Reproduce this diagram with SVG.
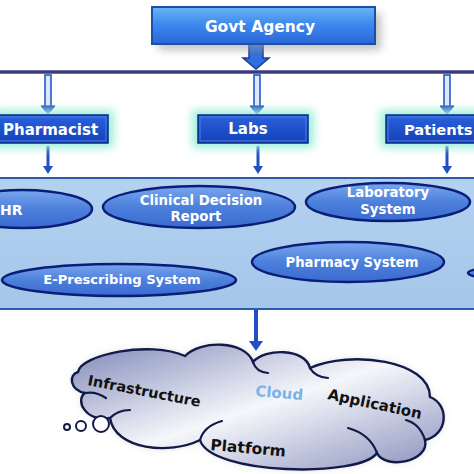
<svg xmlns="http://www.w3.org/2000/svg" width="474" height="474" viewBox="0 0 474 474">
<defs>
<style>
.lbl{font-family:"DejaVu Sans",Verdana,sans-serif;font-weight:bold;fill:#ffffff}
.cl{font-family:"DejaVu Sans",Verdana,sans-serif;font-weight:bold;fill:#111111}
.box{fill:url(#boxg);stroke:#0c2a80;stroke-width:1.5}
.inner{fill:none;stroke:#3f7ae6;stroke-width:1.2}
.ell{fill:url(#ellg);stroke:#0a1e78;stroke-width:2.5}
.thin{stroke:#1f4fc2;stroke-width:3;fill:none}
.head{fill:#1f4fc2}
.shaft{fill:#dce8fb;stroke:#2656cc;stroke-width:1.6}
.bhead{fill:#2a5ed6;stroke:#1a3a98;stroke-width:1}
.curl{fill:none;stroke:#141a48;stroke-width:2.2;stroke-linecap:round}
</style>
<linearGradient id="govg" x1="0" y1="0" x2="0" y2="1">
<stop offset="0" stop-color="#6cb4f6"/>
<stop offset="0.45" stop-color="#3e8aee"/>
<stop offset="1" stop-color="#2a66d6"/>
</linearGradient>
<linearGradient id="boxg" x1="0" y1="0" x2="0" y2="1">
<stop offset="0" stop-color="#2a62dc"/>
<stop offset="1" stop-color="#1440b8"/>
</linearGradient>
<linearGradient id="ellg" x1="0" y1="0" x2="0" y2="1">
<stop offset="0" stop-color="#7aa6ee"/>
<stop offset="0.5" stop-color="#4d80dc"/>
<stop offset="1" stop-color="#3a6ad0"/>
</linearGradient>
<linearGradient id="panelg" x1="0" y1="0" x2="0" y2="1">
<stop offset="0" stop-color="#b4d2f0"/>
<stop offset="1" stop-color="#a4c6ea"/>
</linearGradient>
<linearGradient id="cloudg" x1="0" y1="0" x2="1" y2="1">
<stop offset="0" stop-color="#7e88b8"/>
<stop offset="0.5" stop-color="#f6f7fb"/>
<stop offset="1" stop-color="#8790bc"/>
</linearGradient>
<filter id="glow" x="-20%" y="-50%" width="140%" height="200%">
<feGaussianBlur stdDeviation="4"/>
</filter>
<filter id="shadow" x="-10%" y="-30%" width="130%" height="180%">
<feGaussianBlur stdDeviation="4"/>
</filter>
</defs>
<rect x="0" y="0" width="474" height="474" fill="#ffffff"/>

<g id="connectors">
<line x1="0" y1="72" x2="474" y2="72" stroke="#3a3a7e" stroke-width="3.5"/>
<polygon points="249,44 263,44 263,58 269,58 256,69 243,58 249,58" fill="#2f6ee0" stroke="#1a3a90" stroke-width="1.5"/>
<rect class="shaft" x="45" y="75" width="6" height="32"/>
<polygon class="bhead" points="41,106 55,106 48,114"/>
<rect class="shaft" x="254" y="75" width="6" height="32"/>
<polygon class="bhead" points="250,106 264,106 257,114"/>
<rect class="shaft" x="444" y="75" width="6" height="32"/>
<polygon class="bhead" points="440,106 454,106 447,114"/>
<line class="thin" x1="48" y1="146" x2="48" y2="168"/>
<polygon class="head" points="43,166 53,166 48,174"/>
<line class="thin" x1="258" y1="146" x2="258" y2="168"/>
<polygon class="head" points="253,166 263,166 258,174"/>
<line class="thin" x1="447" y1="146" x2="447" y2="168"/>
<polygon class="head" points="442,166 452,166 447,174"/>
<line x1="256" y1="310" x2="256" y2="343" stroke="#1f4fc8" stroke-width="4"/>
<polygon points="249,341 263,341 256,351" fill="#1f4fc8"/>
</g>

<g id="govt-agency">
<rect x="158" y="13" width="223" height="37" fill="#9a9a9a" opacity="0.6" filter="url(#shadow)"/>
<rect x="152" y="7" width="223" height="37" fill="url(#govg)" stroke="#1d4ea8" stroke-width="2"/>
<text class="lbl" x="260" y="32" font-size="15.5" text-anchor="middle">Govt Agency</text>
</g>

<g id="pharmacist">
<rect x="-6" y="110" width="120" height="38" fill="#9ff0dc" filter="url(#glow)"/>
<rect class="box" x="-4" y="115" width="112" height="28"/>
<rect class="inner" x="-2" y="117" width="108" height="24"/>
<text class="lbl" x="3" y="135" font-size="15">Pharmacist</text>
</g>

<g id="labs">
<rect x="192" y="110" width="122" height="38" fill="#9ff0dc" filter="url(#glow)"/>
<rect class="box" x="198" y="115" width="110" height="28"/>
<rect class="inner" x="200" y="117" width="106" height="24"/>
<text class="lbl" x="248" y="134" font-size="15" text-anchor="middle">Labs</text>
</g>

<g id="patients">
<rect x="380" y="110" width="110" height="38" fill="#9ff0dc" filter="url(#glow)"/>
<rect class="box" x="386" y="115" width="100" height="28"/>
<rect class="inner" x="388" y="117" width="96" height="24"/>
<text class="lbl" x="404" y="135" font-size="14.7">Patients</text>
</g>

<g id="systems-panel">
<rect x="-3" y="178" width="480" height="131" fill="url(#panelg)" stroke="#2a5aa8" stroke-width="2"/>
</g>

<g id="ehr">
<ellipse class="ell" cx="22" cy="209" rx="70" ry="19"/>
<text class="lbl" x="0" y="215" font-size="14">HR</text>
</g>

<g id="clinical-decision-report">
<ellipse class="ell" cx="199" cy="207" rx="96" ry="21"/>
<text class="lbl" x="201" y="205" font-size="13.3" text-anchor="middle">Clinical Decision</text>
<text class="lbl" x="196" y="221" font-size="13.3" text-anchor="middle">Report</text>
</g>

<g id="laboratory-system">
<ellipse class="ell" cx="388" cy="202" rx="82" ry="19"/>
<text class="lbl" x="388" y="197" font-size="13.3" text-anchor="middle">Laboratory</text>
<text class="lbl" x="388" y="214" font-size="13.3" text-anchor="middle">System</text>
</g>

<g id="pharmacy-system">
<ellipse class="ell" cx="348" cy="262" rx="96" ry="20"/>
<text class="lbl" x="352" y="267" font-size="13.2" text-anchor="middle">Pharmacy System</text>
</g>

<g id="e-prescribing-system">
<ellipse class="ell" cx="119" cy="280" rx="117" ry="16"/>
<text class="lbl" x="122" y="284" font-size="13.1" text-anchor="middle">E-Prescribing System</text>
</g>

<g id="partial-system">
<ellipse class="ell" cx="520" cy="273" rx="52" ry="7"/>
</g>

<g id="cloud">
<path d="M78,372 C80,355 150,340 185,356 C200,340 245,340 253,362 C265,348 305,348 310,368 C350,350 430,360 430,397 C450,405 448,435 425,440 C430,462 385,470 377,453 C360,478 210,475 200,440 C170,455 115,450 110,418 C85,422 75,400 85,393 C70,390 68,375 78,372 Z" fill="#b8c4b8" opacity="0.5" filter="url(#glow)"/>
<path d="M78,372 C80,355 150,340 185,356 C200,340 245,340 253,362 C265,348 305,348 310,368 C350,350 430,360 430,397 C450,405 448,435 425,440 C430,462 385,470 377,453 C360,478 210,475 200,440 C170,455 115,450 110,418 C85,422 75,400 85,393 C70,390 68,375 78,372 Z" fill="url(#cloudg)" stroke="#141a48" stroke-width="2.4"/>
<path class="curl" d="M85,393 Q96,391 106,398"/>
<path class="curl" d="M253,362 Q256,372 268,373"/>
<path class="curl" d="M310,368 Q315,377 328,378"/>
<path class="curl" d="M200,440 Q204,426 222,421"/>
<path class="curl" d="M377,453 Q370,434 348,428"/>
<path class="curl" d="M425,440 Q420,424 406,420"/>
<path class="curl" d="M110,418 Q118,410 130,410"/>
<circle cx="67" cy="427" r="3" fill="#ffffff" stroke="#141a48" stroke-width="2"/>
<circle cx="81" cy="426" r="5" fill="#ffffff" stroke="#141a48" stroke-width="2"/>
<circle cx="101" cy="424" r="8" fill="#ffffff" stroke="#141a48" stroke-width="2"/>
<text class="cl" x="87" y="385" font-size="14.5" transform="rotate(11 87 385)">Infrastructure</text>
<text x="255" y="396" font-size="15" transform="rotate(5 255 396)" style="font-family:'DejaVu Sans',Verdana,sans-serif;font-weight:bold;fill:#7ab2ea">Cloud</text>
<text class="cl" x="327" y="399" font-size="15" transform="rotate(12 327 399)">Application</text>
<text class="cl" x="210" y="450" font-size="15.5" transform="rotate(5 210 450)">Platform</text>
</g>
</svg>
